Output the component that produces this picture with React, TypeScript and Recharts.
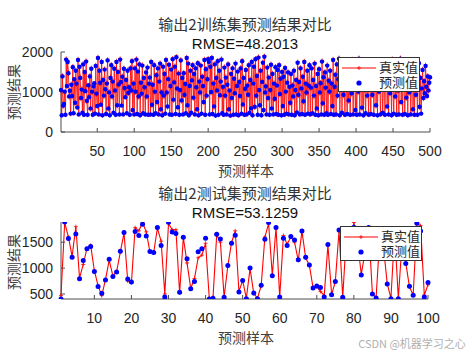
import React from "react";
import { ComposedChart, Line, XAxis, YAxis } from "recharts";

// 训练集 (500 samples)
const trainTrue = [
  1020, 410, 1420, 630, 720, 980, 420, 1840, 1120, 1780, 1500, 860, 1060, 440, 1210, 870, 1650, 480, 1290, 700,
  1560, 1180, 640, 1830, 430, 1600, 1380, 820, 1090, 470, 1720, 420, 1470, 1050, 1790, 750, 420, 1140, 900, 1420,
  560, 1610, 980, 420, 1170, 1190, 450, 1680, 930, 620, 1880, 430, 1560, 1200, 710, 1780, 410, 1330, 880, 1590,
  1040, 440, 1240, 1820, 560, 1020, 410, 1380, 1700, 860, 1290, 470, 1610, 1010, 420, 1780, 640, 1530, 1160, 430,
  1840, 1220, 690, 1410, 430, 1610, 1070, 900, 1330, 460, 1560, 950, 1150, 420, 1620, 1010, 1800, 520, 1240, 430,
  1620, 980, 1840, 440, 1540, 860, 1720, 410, 1260, 930, 1690, 460, 1380, 1090, 430, 1520, 860, 1640, 420, 1180,
  1390, 430, 1780, 650, 1210, 420, 1700, 980, 460, 1450, 720, 1620, 430, 1290, 1740, 540, 1020, 410, 1660, 880,
  1480, 450, 1830, 960, 610, 1350, 1710, 430, 1120, 1590, 420, 1850, 780, 1270, 1660, 440, 1900, 1060, 590, 1490,
  420, 1020, 1820, 760, 1380, 430, 1500, 900, 1230, 460, 1880, 640, 1740, 410, 1180, 1560, 470, 1320, 1700, 830,
  1480, 430, 1620, 1090, 540, 1750, 410, 1290, 960, 1690, 450, 1410, 1120, 720, 1830, 420, 1600, 880, 1350, 1850,
  1780, 430, 1660, 970, 1880, 440, 1240, 610, 1720, 400, 1380, 1010, 1800, 420, 1560, 890, 1290, 1840, 460, 1100,
  420, 1640, 880, 1390, 430, 1210, 1720, 540, 1010, 400, 1480, 820, 1620, 420, 1360, 940, 1740, 430, 1180, 1540,
  410, 1280, 870, 1620, 450, 1800, 660, 1380, 420, 1050, 1580, 430, 1190, 900, 1700, 470, 1330, 560, 1780, 410,
  1240, 1660, 600, 1850, 880, 1430, 420, 1890, 1020, 640, 1560, 410, 1280, 1760, 520, 1910, 960, 1170, 430, 1640,
  820, 1390, 420, 1020, 1710, 560, 1480, 430, 1240, 800, 1650, 440, 1190, 1580, 420, 1700, 920, 1360, 410, 1530,
  620, 1410, 420, 1630, 980, 450, 1260, 1520, 430, 1100, 700, 1480, 420, 1190, 860, 1560, 410, 1020, 1330, 480,
  1760, 900, 1280, 430, 1620, 1060, 440, 1410, 740, 1780, 420, 1240, 960, 1560, 450, 1190, 1700, 430, 1080, 1620,
  460, 1330, 880, 1740, 420, 1180, 560, 1480, 410, 1600, 960, 1250, 430, 1790, 690, 1400, 420, 1520, 1080, 460,
  1690, 420, 1310, 980, 1560, 440, 1240, 620, 1830, 420, 1100, 1460, 430, 1720, 880, 1350, 1860, 410, 1160, 1580,
  470, 1640, 900, 1280, 420, 1710, 1030, 440, 1480, 760, 1590, 420, 1210, 940, 1830, 430, 1300, 1700, 520, 1150,
  420, 1560, 980, 1860, 430, 1240, 1690, 580, 1400, 410, 1800, 1020, 460, 1530, 880, 1320, 420, 1620, 1060, 440,
  1480, 900, 1700, 420, 1180, 1560, 640, 1340, 410, 1760, 980, 1450, 430, 1230, 1620, 470, 1080, 1800, 420, 1340,
  1580, 610, 1260, 430, 1720, 940, 1430, 410, 1840, 1060, 450, 1560, 860, 1300, 420, 1650, 1010, 430, 1520, 1860,
  720, 1380, 420, 1690, 1100, 440, 1550, 830, 1240, 410, 1710, 960, 1480, 430, 1160, 1800, 540, 1330, 420, 1640,
  900, 1440, 420, 1220, 1750, 600, 1380, 450, 1060, 1580, 820, 1300, 940, 1680, 1100, 870, 1420, 1010, 1260, 1340,
];
const trainPred = [
  1050, 420, 1390, 660, 700, 1010, 430, 1810, 1150, 1750, 1470, 890, 1030, 460, 1180, 900, 1620, 470, 1320, 730,
  1530, 1210, 610, 1800, 440, 1630, 1350, 850, 1060, 480, 1690, 430, 1500, 1020, 1760, 780, 430, 1170, 870, 1390,
  590, 1580, 1010, 430, 1140, 1220, 460, 1650, 960, 650, 1850, 440, 1530, 1230, 680, 1750, 420, 1300, 910, 1560,
  1070, 450, 1210, 1790, 590, 990, 420, 1350, 1670, 890, 1260, 480, 1580, 1040, 430, 1750, 670, 1500, 1190, 440,
  1810, 1250, 660, 1380, 440, 1580, 1100, 870, 1300, 470, 1530, 980, 1120, 430, 1590, 1040, 1770, 550, 1210, 440,
  1590, 1010, 1810, 450, 1510, 890, 1690, 420, 1230, 960, 1660, 470, 1350, 1120, 440, 1490, 890, 1610, 430, 1210,
  1360, 440, 1750, 680, 1180, 430, 1670, 1010, 470, 1420, 750, 1590, 440, 1260, 1710, 570, 990, 420, 1630, 910,
  1450, 460, 1800, 990, 640, 1320, 1680, 440, 1150, 1560, 430, 1820, 810, 1240, 1630, 450, 1870, 1090, 620, 1460,
  430, 1050, 1790, 790, 1350, 440, 1470, 930, 1200, 470, 1850, 670, 1710, 420, 1150, 1530, 480, 1290, 1670, 860,
  1450, 440, 1590, 1120, 570, 1720, 420, 1260, 990, 1660, 460, 1380, 1150, 750, 1800, 430, 1570, 910, 1320, 1820,
  1750, 440, 1630, 1000, 1850, 450, 1210, 640, 1690, 410, 1350, 1040, 1770, 430, 1530, 920, 1260, 1810, 470, 1130,
  430, 1610, 910, 1360, 440, 1180, 1690, 570, 1040, 410, 1450, 850, 1590, 430, 1330, 970, 1710, 440, 1150, 1510,
  420, 1250, 900, 1590, 460, 1770, 690, 1350, 430, 1080, 1550, 440, 1160, 930, 1670, 480, 1300, 590, 1750, 420,
  1210, 1630, 630, 1820, 910, 1400, 430, 1860, 1050, 670, 1530, 420, 1250, 1730, 550, 1880, 990, 1140, 440, 1610,
  850, 1360, 430, 1050, 1680, 590, 1450, 440, 1210, 830, 1620, 450, 1160, 1550, 430, 1670, 950, 1330, 420, 1500,
  650, 1380, 430, 1600, 1010, 460, 1230, 1490, 440, 1130, 730, 1450, 430, 1160, 890, 1530, 420, 1050, 1300, 490,
  1730, 930, 1250, 440, 1590, 1090, 450, 1380, 770, 1750, 430, 1210, 990, 1530, 460, 1160, 1670, 440, 1110, 1590,
  470, 1300, 910, 1710, 430, 1150, 590, 1450, 420, 1570, 990, 1220, 440, 1760, 720, 1370, 430, 1490, 1110, 470,
  1660, 430, 1280, 1010, 1530, 450, 1210, 650, 1800, 430, 1130, 1430, 440, 1690, 910, 1320, 1830, 420, 1130, 1550,
  480, 1610, 930, 1250, 430, 1680, 1060, 450, 1450, 790, 1560, 430, 1180, 970, 1800, 440, 1270, 1670, 550, 1120,
  430, 1530, 1010, 1830, 440, 1210, 1660, 610, 1370, 420, 1770, 1050, 470, 1500, 910, 1290, 430, 1590, 1090, 450,
  1450, 930, 1670, 430, 1150, 1530, 670, 1310, 420, 1730, 1010, 1420, 440, 1200, 1590, 480, 1110, 1770, 430, 1310,
  1550, 640, 1230, 440, 1690, 970, 1400, 420, 1810, 1090, 460, 1530, 890, 1270, 430, 1620, 1040, 440, 1490, 1830,
  750, 1350, 430, 1660, 1130, 450, 1520, 860, 1210, 420, 1680, 990, 1450, 440, 1130, 1770, 570, 1300, 430, 1610,
  930, 1410, 430, 1190, 1720, 630, 1350, 460, 1090, 1550, 850, 1270, 970, 1650, 1130, 900, 1390, 1040, 1230, 1370,
];

// 测试集 (100 samples)
const testTrue = [
  470, 1880, 1600, 1230, 1800, 810, 1070, 1380, 1440, 950,
  660, 470, 780, 1150, 850, 930, 1310, 1680, 750, 720,
  1780, 1720, 1880, 1700, 1310, 1300, 1770, 1520, 500, 1860,
  1740, 1740, 520, 1590, 1100, 610, 800, 1200, 1250, 1480,
  420, 430, 1640, 1500, 440, 1040, 1490, 1720, 550, 760,
  420, 990, 510, 420, 660, 1600, 1860, 860, 1790, 440,
  1630, 1460, 1600, 1500, 1150, 1710, 1200, 1050, 620, 640,
  550, 470, 1440, 490, 740, 1720, 440, 1650, 1350, 1880,
  1500, 880, 1300, 1770, 510, 430, 1610, 1400, 700, 420,
  1690, 420, 1500, 1100, 640, 480, 1860, 1820, 480, 680,
];
const testPred = [
  404, 1890, 1570, 1211, 1660, 795, 1147, 1372, 1417, 936,
  647, 513, 770, 1173, 840, 923, 1327, 1686, 788, 731,
  1705, 1628, 1846, 1622, 1320, 1301, 1782, 1436, 442, 1885,
  1699, 1667, 532, 1596, 1179, 603, 744, 1314, 1372, 1577,
  404, 417, 1654, 1564, 436, 1051, 1481, 1635, 538, 763,
  410, 1000, 519, 410, 667, 1558, 1878, 853, 1782, 442,
  1577, 1436, 1609, 1545, 1160, 1718, 1211, 1058, 615, 654,
  628, 442, 1455, 487, 744, 1737, 436, 1640, 1340, 1790,
  1520, 867, 1310, 1782, 500, 423, 1600, 1390, 692, 410,
  1700, 410, 1510, 1090, 648, 474, 1865, 1718, 442, 724,
];

const trainXTicks = [50, 100, 150, 200, 250, 300, 350, 400, 450, 500];
const trainYTicks = [0, 1000, 2000];
const testXTicks = [10, 20, 30, 40, 50, 60, 70, 80, 90, 100];
const testYTicks = [500, 1000, 1500];

const trainData = trainTrue.map((v, i) => ({ idx: i + 1, real: v, pred: trainPred[i] }));
const testData = testTrue.map((v, i) => ({ idx: i + 1, real: v, pred: testPred[i] }));

const NUM_FONT = "'Liberation Sans', Arial, sans-serif";
const CJK_FONT = "'Noto Sans CJK SC', sans-serif";
// primary latin font keeps the line box compact, CJK glyphs fall back to Noto
const LEGEND_FONT = "'Liberation Sans', 'Noto Sans CJK SC', sans-serif";
const AXIS = "#4d4d4d";
const tickStyle = { fontSize: 14, fill: "#262626", fontFamily: NUM_FONT };

const StarDot = (props: any) => {
  const { cx, cy, index } = props;
  if (cx == null || cy == null) return <g key={index} />;
  const s = 2;
  return (
    <g key={index} stroke="#ff0000" strokeWidth={0.8}>
      <line x1={cx - s} y1={cy} x2={cx + s} y2={cy} />
      <line x1={cx} y1={cy - s} x2={cx} y2={cy + s} />
    </g>
  );
};

function Panel({ data, xMax, xTicks, yTicks, yDomain, height, margin, lineW, dotR }: any) {
  return (
    <ComposedChart width={474} height={height} data={data} margin={margin}>
      <XAxis
        xAxisId="b"
        type="number"
        dataKey="idx"
        domain={[1, xMax]}
        ticks={xTicks}
        height={30}
        stroke={AXIS}
        tickSize={-4}
        tickMargin={18}
        tick={tickStyle}
      />
      <XAxis
        xAxisId="t"
        orientation="top"
        type="number"
        dataKey="idx"
        domain={[1, xMax]}
        ticks={xTicks}
        height={0}
        stroke={AXIS}
        tickSize={-4}
        tick={false}
      />
      <YAxis
        yAxisId="l"
        type="number"
        domain={yDomain}
        ticks={yTicks}
        width={50}
        stroke={AXIS}
        tickSize={-4}
        tickMargin={12}
        tick={tickStyle}
        allowDataOverflow
      />
      <YAxis
        yAxisId="r"
        orientation="right"
        type="number"
        domain={yDomain}
        ticks={yTicks}
        width={0}
        stroke={AXIS}
        tickSize={-4}
        tick={false}
        allowDataOverflow
      />
      <Line
        xAxisId="b"
        yAxisId="l"
        dataKey="real"
        stroke="#ff0000"
        strokeWidth={lineW}
        dot={StarDot}
        activeDot={false}
        isAnimationActive={false}
      />
      <Line
        xAxisId="b"
        yAxisId="l"
        dataKey="pred"
        stroke="none"
        dot={{ r: dotR, fill: "#0000ff", stroke: "none" }}
        activeDot={false}
        isAnimationActive={false}
      />
    </ComposedChart>
  );
}

const legendText = {
  position: "absolute" as const,
  left: 40,
  fontSize: 13,
  lineHeight: "15px",
  fontFamily: LEGEND_FONT,
  color: "#262626",
  whiteSpace: "nowrap" as const,
};

function LegendBox({ left, top }: { left: number; top: number }) {
  return (
    <div
      style={{
        position: "absolute",
        left,
        top,
        width: 82,
        height: 35,
        background: "#fff",
        border: "1px solid #333",
        boxSizing: "border-box",
      }}
    >
      <svg width={80} height={33} style={{ position: "absolute", left: 0, top: 0 }}>
        <line x1={3} y1={10} x2={37} y2={10} stroke="#ff0000" strokeWidth={1} />
        <line x1={18} y1={10} x2={22} y2={10} stroke="#ff0000" strokeWidth={0.8} />
        <line x1={20} y1={8} x2={20} y2={12} stroke="#ff0000" strokeWidth={0.8} />
        <circle cx={20} cy={25} r={2.6} fill="#0000ff" />
      </svg>
      <div style={{ ...legendText, top: 2 }}>真实值</div>
      <div style={{ ...legendText, top: 17 }}>预测值</div>
    </div>
  );
}

function Label({ x, y, text, size, font, color, rotate }: any) {
  return (
    <div
      style={{
        position: "absolute",
        left: x,
        top: y,
        transform: `translate(-50%, -50%)${rotate ? " rotate(-90deg)" : ""}`,
        fontSize: size,
        fontFamily: font,
        color,
        whiteSpace: "nowrap",
        lineHeight: 1,
      }}
    >
      {text}
    </div>
  );
}

export default function App() {
  const testMin = Math.min(...testTrue, ...testPred);
  const testMax = Math.max(...testTrue, ...testPred);
  return (
    <div style={{ position: "absolute", left: 0, top: 0, width: 474, height: 355, background: "#fff", overflow: "hidden" }}>
      <div style={{ position: "absolute", left: 0, top: 0 }}>
        <Panel
          data={trainData}
          xMax={500}
          xTicks={trainXTicks}
          yTicks={trainYTicks}
          yDomain={[0, 2000]}
          height={180}
          margin={{ top: 52, right: 44, bottom: 18, left: 11 }}
          lineW={0.8}
          dotR={2.2}
        />
      </div>
      <div style={{ position: "absolute", left: 0, top: 180 }}>
        <Panel
          data={testData}
          xMax={100}
          xTicks={testXTicks}
          yTicks={testYTicks}
          yDomain={[testMin, testMax]}
          height={175}
          margin={{ top: 42, right: 46, bottom: 26, left: 11 }}
          lineW={1.1}
          dotR={2.5}
        />
      </div>

      <Label x={245} y={23} text="输出2训练集预测结果对比" size={15} font={CJK_FONT} color="#333" />
      <Label x={245} y={43} text="RMSE=48.2013" size={15} font={NUM_FONT} color="#111" />
      <Label x={246} y={170} text="预测样本" size={14} font={CJK_FONT} color="#404040" />
      <Label x={13} y={92} text="预测结果" size={14} font={CJK_FONT} color="#404040" rotate />
      <LegendBox left={338} top={57} />

      <Label x={245} y={192} text="输出2测试集预测结果对比" size={15} font={CJK_FONT} color="#333" />
      <Label x={245} y={212} text="RMSE=53.1259" size={15} font={NUM_FONT} color="#111" />
      <Label x={246} y={337} text="预测样本" size={14} font={CJK_FONT} color="#404040" />
      <Label x={13} y={262} text="预测结果" size={14} font={CJK_FONT} color="#404040" rotate />
      <LegendBox left={340} top={226} />

      <Label x={412} y={343} text="CSDN @机器学习之心" size={11} font={CJK_FONT} color="#b0b0b0" />
    </div>
  );
}
